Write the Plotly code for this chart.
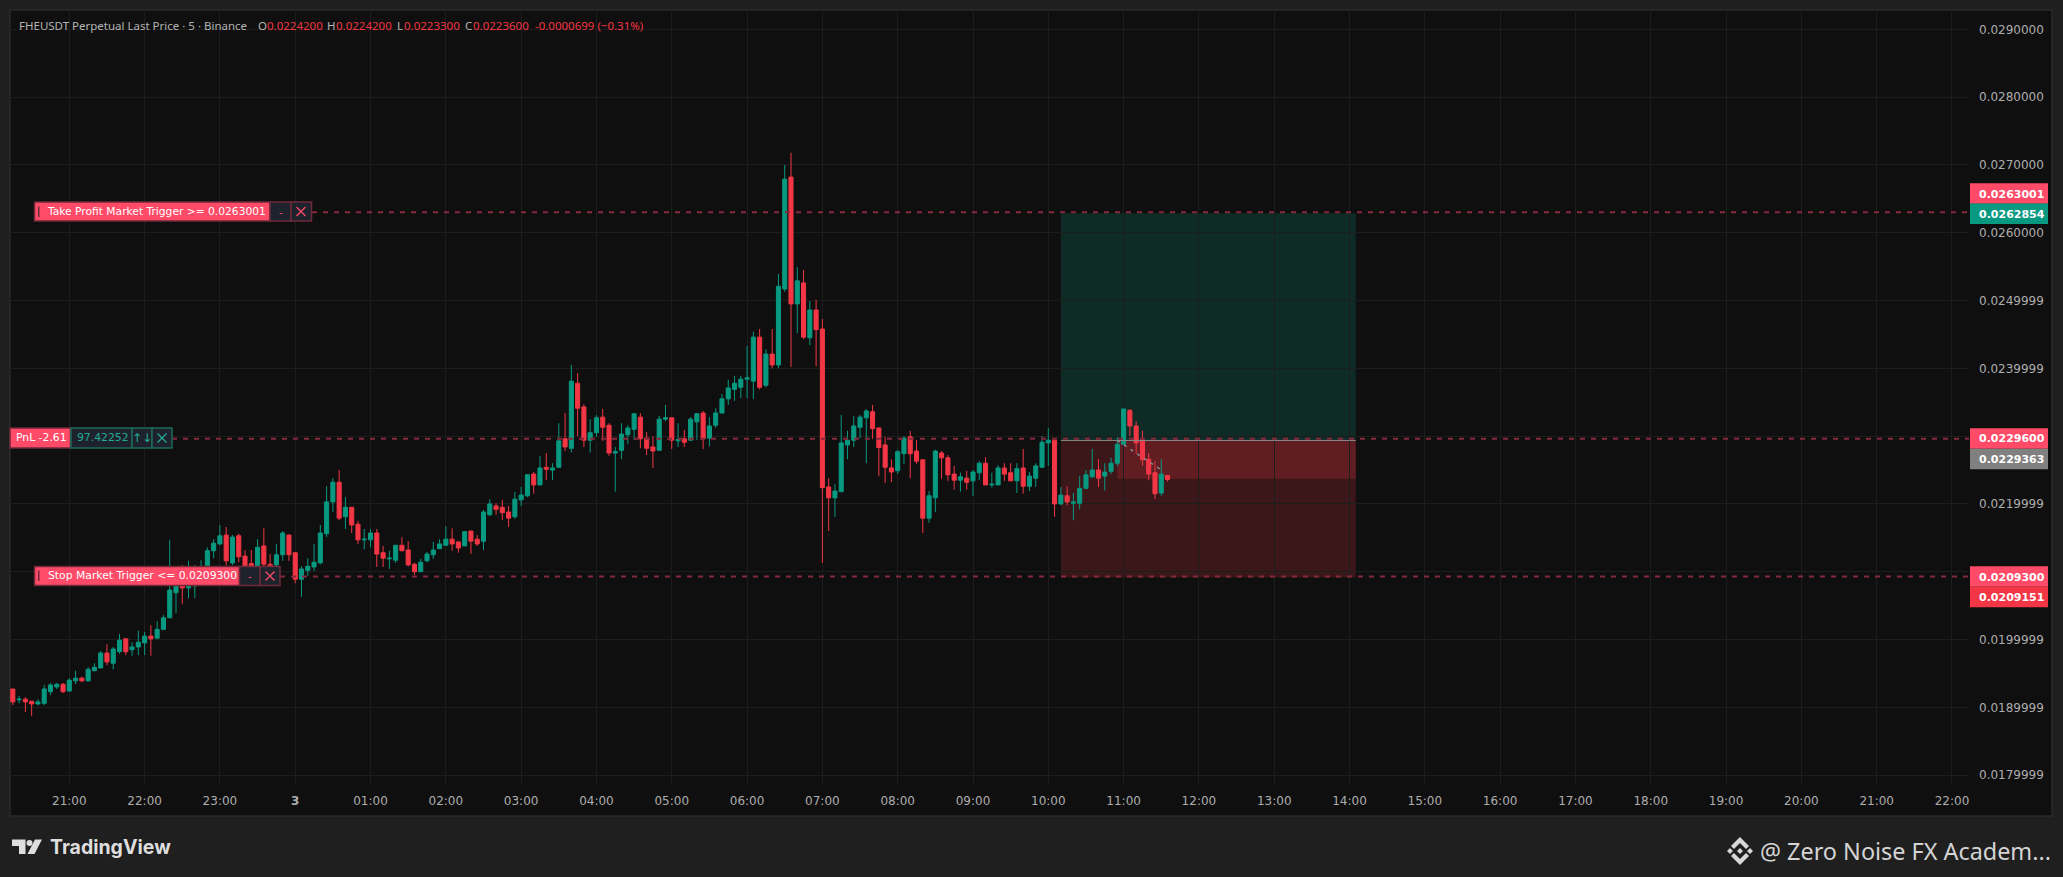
import pandas as pd
import plotly.graph_objects as go

# OHLC in units of 0.00001 USDT, one value per 5-minute bar
opens = [1927,1911,1912,1909,1905,1906,1923,1930,1934,1924,
1939,1943,1939,1954,1958,1980,1965,1982,2001,1985,
1989,1995,2005,2002,2015,2032,2069,2102,2076,2079,
2093,2107,2131,2141,2154,2113,2153,2123,2112,2107,
2138,2111,2110,2125,2154,2128,2089,2102,2107,2113,
2156,2203,2232,2181,2195,2170,2147,2147,2157,2128,
2119,2117,2139,2132,2111,2100,2116,2125,2134,2139,
2148,2144,2138,2160,2148,2145,2184,2197,2195,2188,
2181,2206,2212,2244,2228,2254,2250,2254,2296,2282,
2378,2343,2294,2305,2328,2316,2275,2279,2302,2310,
2328,2297,2284,2279,2325,2327,2293,2296,2294,2321,
2334,2297,2316,2334,2355,2369,2372,2384,2381,2446,
2375,2421,2405,2517,2682,2495,2526,2445,2486,2458,
2225,2209,2218,2287,2294,2313,2327,2336,2312,2287,
2253,2249,2274,2299,2278,2265,2179,2209,2275,2268,
2244,2235,2238,2234,2246,2260,2228,2228,2253,2246,
2234,2253,2226,2238,2254,2290,2294,2200,2212,2201,
2201,2223,2240,2250,2241,2248,2260,2288,2338,2315,
2293,2266,2246,2216,2242]
highs = [1927,1917,1915,1909,1912,1933,1936,1936,1936,1943,
1954,1945,1959,1965,1983,1993,1989,2008,2001,1996,
2013,2011,2021,2027,2036,2147,2107,2110,2116,2110,
2117,2136,2148,2169,2166,2154,2156,2132,2132,2148,
2164,2126,2141,2160,2155,2129,2108,2120,2141,2169,
2226,2238,2250,2210,2195,2175,2163,2163,2163,2138,
2131,2139,2151,2145,2113,2119,2129,2144,2148,2167,
2164,2144,2160,2160,2154,2191,2207,2201,2206,2197,
2218,2225,2244,2247,2271,2275,2260,2319,2334,2405,
2393,2347,2325,2331,2340,2319,2284,2319,2316,2334,
2334,2306,2300,2330,2346,2328,2319,2309,2328,2334,
2337,2328,2341,2362,2383,2389,2389,2433,2454,2458,
2428,2458,2539,2700,2718,2549,2545,2499,2501,2473,
2238,2229,2331,2308,2330,2331,2340,2346,2313,2299,
2266,2280,2300,2308,2294,2266,2219,2280,2278,2272,
2256,2246,2249,2250,2263,2269,2246,2257,2260,2260,
2260,2281,2247,2260,2300,2312,2294,2225,2226,2216,
2241,2250,2281,2266,2260,2268,2299,2340,2340,2322,
2308,2275,2263,2266,2242]
lows = [1903,1906,1893,1887,1903,1903,1918,1927,1921,1923,
1934,1937,1938,1953,1958,1962,1956,1979,1977,1976,
1977,1977,1976,2001,2014,2032,2039,2052,2061,2061,
2088,2102,2120,2139,2109,2110,2114,2102,2093,2102,
2107,2098,2105,2116,2116,2083,2063,2094,2101,2111,
2151,2188,2176,2163,2157,2141,2133,2136,2107,2107,
2104,2113,2130,2108,2095,2100,2114,2119,2134,2138,
2131,2128,2138,2126,2138,2132,2182,2184,2176,2166,
2178,2197,2210,2215,2228,2235,2235,2254,2278,2276,
2300,2284,2276,2299,2293,2271,2218,2266,2288,2294,
2282,2272,2253,2279,2322,2281,2284,2284,2294,2294,
2281,2285,2312,2334,2346,2352,2356,2356,2355,2369,
2372,2400,2400,2513,2402,2452,2443,2434,2403,2113,
2160,2181,2218,2266,2284,2297,2260,2296,2241,2231,
2232,2244,2259,2238,2259,2157,2172,2188,2237,2234,
2221,2218,2221,2212,2235,2228,2224,2228,2234,2234,
2216,2215,2219,2225,2253,2256,2181,2198,2198,2176,
2192,2222,2238,2225,2220,2244,2256,2287,2300,2274,
2256,2235,2207,2212,2233]
closes = [1908,1912,1908,1905,1908,1927,1933,1934,1923,1940,
1943,1939,1956,1959,1980,1967,1986,1999,1982,1989,
1996,2005,2001,2015,2032,2073,2094,2076,2093,2095,
2107,2131,2142,2153,2116,2151,2122,2107,2098,2136,
2111,2102,2125,2157,2125,2089,2104,2108,2114,2157,
2203,2232,2179,2195,2169,2147,2148,2157,2126,2120,
2120,2139,2131,2110,2100,2114,2126,2132,2141,2148,
2141,2135,2159,2145,2141,2188,2200,2192,2187,2179,
2207,2213,2243,2228,2253,2251,2253,2293,2284,2381,
2341,2294,2305,2327,2313,2275,2277,2303,2312,2333,
2296,2282,2278,2325,2327,2294,2295,2291,2325,2333,
2296,2315,2334,2355,2371,2378,2384,2386,2446,2372,
2421,2405,2521,2679,2495,2529,2446,2486,2457,2224,
2209,2219,2290,2294,2315,2328,2337,2311,2283,2254,
2247,2277,2297,2274,2263,2179,2212,2278,2268,2243,
2235,2240,2232,2247,2260,2228,2229,2253,2244,2234,
2252,2226,2241,2256,2291,2294,2200,2213,2203,2203,
2223,2243,2250,2238,2247,2260,2288,2340,2315,2290,
2265,2244,2215,2244,2236]
PRICE_UNIT = 1e-5
FIRST_BAR = "2025-06-02 20:15"

x_tick_labels = ["21:00","22:00","23:00","<b>3</b>","01:00","02:00","03:00","04:00","05:00","06:00",
                 "07:00","08:00","09:00","10:00","11:00","12:00","13:00","14:00","15:00","16:00",
                 "17:00","18:00","19:00","20:00","21:00","22:00"]
y_tick_values = [0.029,0.028,0.027,0.026,0.025,0.024,0.023,0.022,0.021,0.020,0.019,0.018]
y_tick_labels = ["0.0290000","0.0280000","0.0270000","0.0260000","0.0249999","0.0239999","",
                 "0.0219999","","0.0199999","0.0189999","0.0179999"]

take_profit_order = 0.0263001
entry_order = 0.0229600
stop_order = 0.0209300
position_target = 0.0262854
position_entry = 0.0229363
position_stop = 0.0209151
position_last = 0.02237
position_start = "2025-06-03 10:10"
position_end = "2025-06-03 14:05"
position_live = "2025-06-03 10:55"

badges = [("0.0263001", 193.5, "#ff4a68"), ("0.0262854", 213.7, "#089981"),
          ("0.0229600", 438.5, "#ff4a68"), ("0.0229363", 459, "#808080"),
          ("0.0209300", 576.5, "#ff4a68"), ("0.0209151", 597, "#f23645")]

# ---- layout helpers (pixels of the 2063x877 page -> paper fractions)
W, H = 2063, 877
PL, PR, PT, PB = 10, 1969, 10, 785
def xp(x): return (x - PL) / (PR - PL)
def yp(y): return (PB - y) / (PB - PT)

UP, DOWN = "#089981", "#f23645"
PINK, DARKBOX = "#ff4a68", "#1e222d"
shapes, notes = [], []

def rect(x0, y0, x1, y1, fill, line=None, lw=1):
    shapes.append(dict(type="rect", xref="paper", yref="paper", x0=xp(x0), x1=xp(x1), y0=yp(y1), y1=yp(y0),
                       fillcolor=fill, line=dict(color=line or fill, width=lw if line else 0), layer="above"))

def poly(points, fill):
    path = "M " + " L ".join(f"{xp(a):.5f} {yp(b):.5f}" for a, b in points) + " Z"
    shapes.append(dict(type="path", xref="paper", yref="paper", path=path, fillcolor=fill,
                       line=dict(width=0), layer="above"))

def seg(x0, y0, x1, y1, color, lw=1.3):
    shapes.append(dict(type="line", xref="paper", yref="paper", x0=xp(x0), x1=xp(x1), y0=yp(y0), y1=yp(y1),
                       line=dict(color=color, width=lw), layer="above"))

def text(x, y, s, size=11, color="#ffffff", family="DejaVu Sans", anchor="left"):
    notes.append(dict(xref="paper", yref="paper", x=xp(x), y=yp(y), text=s, showarrow=False, xanchor=anchor,
                      yanchor="middle", borderpad=0, font=dict(size=size, color=color, family=family)))

def cross(cx, cy, color, r=4.5):
    seg(cx - r, cy - r, cx + r, cy + r, color)
    seg(cx - r, cy + r, cx + r, cy - r, color)

# ---- data
times = pd.date_range(FIRST_BAR, periods=len(opens), freq="5min")
tick_times = pd.date_range("2025-06-02 21:00", periods=len(x_tick_labels), freq="h")
scale = lambda values: [round(v * PRICE_UNIT, 5) for v in values]

fig = go.Figure(go.Candlestick(
    x=times, open=scale(opens), high=scale(highs), low=scale(lows), close=scale(closes),
    increasing=dict(line=dict(color=UP, width=1), fillcolor=UP),
    decreasing=dict(line=dict(color=DOWN, width=1), fillcolor=DOWN),
    whiskerwidth=0, showlegend=False, hoverinfo="skip"))

# pane behind the plot
shapes.append(dict(type="rect", xref="paper", yref="paper", x0=xp(10), x1=xp(2052), y0=yp(816), y1=yp(10),
                   fillcolor="#0f0f0f", line=dict(color="#2b2b2b", width=1.5), layer="below"))

# position tool zones
zones = [(position_entry, position_target, position_start, "rgba(8,153,129,0.2)"),
         (position_stop, position_entry, position_start, "rgba(242,54,69,0.2)"),
         (position_last, position_entry, position_live, "rgba(242,54,69,0.2)")]
for low, high, start, fill in zones:
    shapes.append(dict(type="rect", xref="x", yref="y", x0=start, x1=position_end, y0=low, y1=high,
                       fillcolor=fill, line=dict(width=0), layer="below"))
shapes.append(dict(type="line", xref="x", yref="y", x0=position_start, x1=position_end,
                   y0=position_entry, y1=position_entry, line=dict(color="#8c8c8c", width=1), layer="above"))
shapes.append(dict(type="line", xref="x", yref="y", x0=position_live, x1="2025-06-03 11:30",
                   y0=position_entry, y1=0.02250, line=dict(color="#8c8c8c", width=1.5, dash="3px,5px"), layer="above"))

# order lines
for price, start in [(take_profit_order, 312), (entry_order, 172), (stop_order, 280)]:
    shapes.append(dict(type="line", xref="paper", yref="y", x0=xp(start), x1=1, y0=price, y1=price,
                       line=dict(color="#86293c", width=2, dash="5px,6px"), layer="above"))

# left order tags
BORDER = "#6f2a3a"
rect(34.5, 202, 270, 221, PINK, BORDER, 1.5)
rect(38, 206.5, 39.5, 217, BORDER)
text(46, 211.5, "Take Profit Market Trigger &gt;= 0.0263001", 10.7)
rect(270, 202, 291, 221, DARKBOX, BORDER, 1.5)
text(280.5, 211.5, "-", 10.5, PINK, anchor="center")
rect(291, 202, 311.5, 221, DARKBOX, BORDER, 1.5)
cross(301, 211.5, PINK)

rect(34.5, 566.5, 239.5, 585.5, PINK, BORDER, 1.5)
rect(38, 570.5, 39.5, 581, BORDER)
text(47, 575.5, "Stop Market Trigger &lt;= 0.0209300", 10.8)
rect(239.5, 566.5, 260, 585.5, DARKBOX, BORDER, 1.5)
text(250, 575.5, "-", 10.5, PINK, anchor="center")
rect(260, 566.5, 280, 585.5, DARKBOX, BORDER, 1.5)
cross(270, 576, PINK)

GBORDER = "#1d6b5a"
rect(10, 428, 70.5, 448, PINK, BORDER, 1.5)
text(15, 437.5, "PnL -2.61", 10.8)
rect(71, 428, 132, 448, DARKBOX, GBORDER, 1.5)
text(76, 437.5, "97.42252", 10.8, "#22ab94")
rect(132, 428, 152, 448, DARKBOX, GBORDER, 1.5)
text(142, 437.5, "↑↓", 12, "#22ab94", anchor="center")
rect(152, 428, 172, 448, DARKBOX, GBORDER, 1.5)
cross(162, 438, "#22ab94")

# right price badges
for label, cy, color in badges:
    rect(1970, cy - 10.2, 2048, cy + 10.2, color)
    text(1978.5, cy + 0.5, f"<b>{label}</b>", 11)

# legend row
GREY, LEG = "#b4b4b4", "Noto Sans"
text(18, 25, "FHEUSDT Perpetual Last Price · 5 · Binance", 11.5, GREY, LEG)
for letter, xl, value, xv in [("O", 257, "0.0224200", 265.5), ("H", 326, "0.0224200", 334.5),
                              ("L", 396, "0.0223300", 403), ("C", 464, "0.0223600", 472)]:
    text(xl, 25, letter, 11.5, GREY, LEG)
    text(xv, 25, value, 11.5, DOWN, LEG)
text(534, 25, "-0.0000699 (−0.31%)", 11.5, DOWN, LEG)

# footer: TradingView logo and watermark
LOGO = "#dedede"
poly([(12, 839.5), (25.5, 839.5), (25.5, 854), (19, 854), (19, 846), (12, 846)], LOGO)
shapes.append(dict(type="circle", xref="paper", yref="paper", x0=xp(26.5), x1=xp(32.5), y0=yp(846), y1=yp(840),
                   fillcolor=LOGO, line=dict(width=0), layer="above"))
poly([(35, 839.5), (42, 839.5), (34.5, 854), (27.5, 854)], LOGO)
text(49, 847, "<b>TradingView</b>", 19.5, LOGO, "Inter")

ICON = "#d8d8d8"
for cx in (1730, 1740, 1750):
    poly([(cx, 848), (cx + 3, 851), (cx, 854), (cx - 3, 851)], ICON)
poly([(1740, 837), (1749, 846), (1746, 849), (1740, 843), (1734, 849), (1731, 846)], ICON)
poly([(1740, 865), (1749, 856), (1746, 853), (1740, 859), (1734, 853), (1731, 856)], ICON)
text(1759, 851, "@ Zero Noise FX Academ...", 23.4, "#d4d4d4", "Noto Sans")

fig.update_layout(
    width=W, height=H, margin=dict(l=PL, r=W - PR, t=PT, b=H - PB, autoexpand=False),
    paper_bgcolor="#1f1f1f", plot_bgcolor="#0f0f0f", showlegend=False, hovermode=False,
    boxgap=0.35, boxgroupgap=0, dragmode=False,
    shapes=shapes, annotations=notes,
    xaxis=dict(type="date", range=["2025-06-02 20:12:45", "2025-06-03 22:13:33"],
               tickmode="array", tickvals=tick_times, ticktext=x_tick_labels,
               showgrid=True, gridcolor="#1d1d1d", gridwidth=1, zeroline=False, showline=False,
               ticks="", ticklabelstandoff=7, rangeslider=dict(visible=False),
               tickfont=dict(family="DejaVu Sans", size=12, color="#adadad")),
    yaxis=dict(side="right", range=[0.017854, 0.029285], tickmode="array",
               tickvals=y_tick_values, ticktext=y_tick_labels,
               showgrid=True, gridcolor="#1d1d1d", gridwidth=1, zeroline=False, showline=False,
               ticks="", ticklabelstandoff=9,
               tickfont=dict(family="DejaVu Sans", size=12, color="#adadad")),
)

fig.write_html("out.html", config={"displayModeBar": False},
               post_script="document.body.style.margin='0';document.body.style.overflow='hidden';")
